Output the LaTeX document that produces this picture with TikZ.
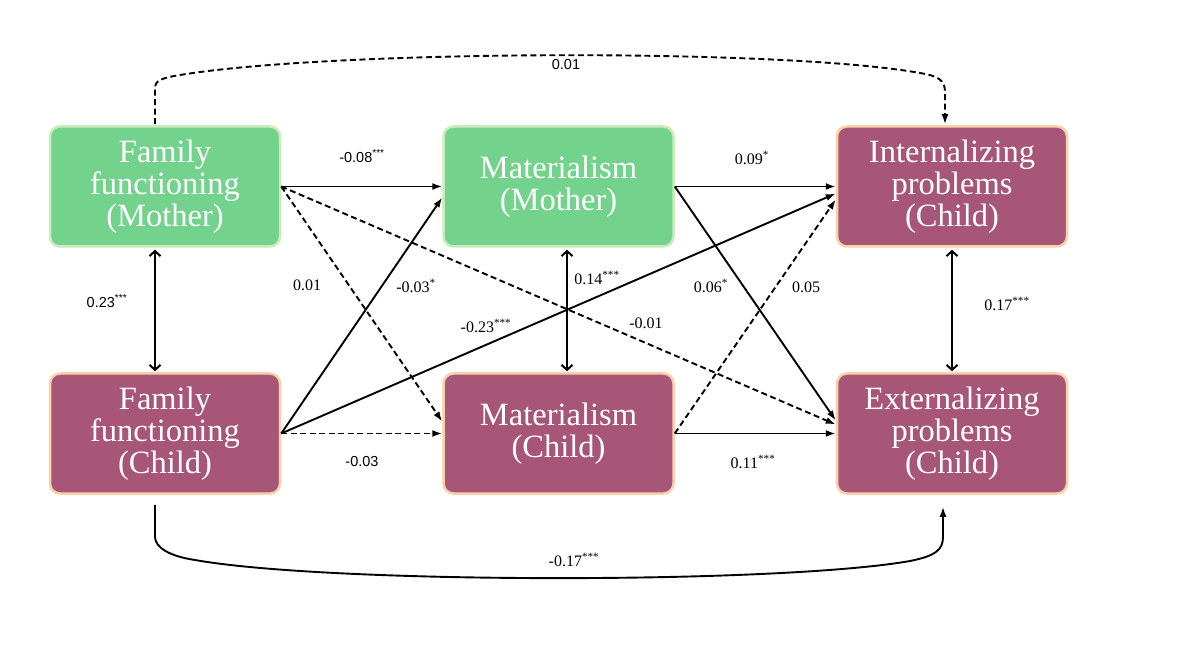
\documentclass[tikz,border=0pt]{standalone}
\usepackage{fontspec}
\setmainfont{Liberation Serif}
\newfontfamily\lsans{Liberation Sans}
\usetikzlibrary{arrows.meta,calc}
\definecolor{gfill}{RGB}{115,210,140}
\definecolor{gline}{RGB}{200,236,186}
\definecolor{pfill}{RGB}{168,86,120}
\definecolor{pline}{RGB}{248,208,170}
\tikzset{
  box/.style={rounded corners=10pt, line width=2.5pt, minimum width=230pt, minimum height=120pt,
    align=center, text=white, inner sep=0pt, font=\fontsize{32.5}{32}\selectfont},
  gbox/.style={box, fill=gfill, draw=gline},
  pbox/.style={box, fill=pfill, draw=pline},
  path/.style={line width=1.9pt, -{Latex[length=10pt,width=7pt]}},
  dpath/.style={path, dash pattern=on 6pt off 3.5pt},
  bipath/.style={line width=2pt, {Straight Barb[length=5pt,width=11pt]}-{Straight Barb[length=5pt,width=11pt]}},
  lab/.style={font=\fontsize{16}{16}\selectfont, inner sep=1pt},
  slab/.style={font=\lsans\fontsize{14.5}{15}\selectfont, inner sep=1pt}
}
\begin{document}
\begin{tikzpicture}[x=1pt,y=-1pt]
\useasboundingbox (0,0) rectangle (1200,652);
\fill[white] (0,0) rectangle (1200,652);
% boxes
\node[gbox] (FFM) at (165,186.5) {Family\\functioning\\(Mother)};
\node[gbox] (MatM) at (558.5,186.5) {Materialism\\(Mother)};
\node[pbox] (IntC) at (952,186.5) {Internalizing\\problems\\(Child)};
\node[pbox] (FFC) at (165,433.5) {Family\\functioning\\(Child)};
\node[pbox] (MatC) at (558.5,433.5) {Materialism\\(Child)};
\node[pbox] (ExtC) at (952,433.5) {Externalizing\\problems\\(Child)};
% helper coordinates
\coordinate (t1) at ($(FFM.north)+(-10,-1)$);
\coordinate (t2) at ($(IntC.north)+(-7,-1)$);
\coordinate (b1) at ($(FFC.south)+(-10,10)$);
\coordinate (b2) at ($(ExtC.south)+(-9,12)$);
% straight paths
\draw[path] (FFM.east) -- (MatM.west);
\draw[dpath] (FFM.east) -- ($(MatC.west)+(0,-12)$);
\draw[dpath] (FFM.east) -- ($(ExtC.west)+(0,-9)$);
\draw[path] (FFC.east) -- ($(MatM.west)+(0,11)$);
\draw[path] (FFC.east) -- ($(IntC.west)+(0,7)$);
\draw[dpath] (FFC.east) -- (MatC.west);
\draw[path] (MatM.east) -- (IntC.west);
\draw[path] (MatM.east) -- ($(ExtC.west)+(0,-13)$);
\draw[dpath] (MatC.east) -- ($(IntC.west)+(0,13)$);
\draw[path] (MatC.east) -- (ExtC.west);
% correlations
\draw[bipath] ($(FFM.south)+(-10,2)$) -- ($(FFC.north)+(-10,-1)$);
\draw[bipath] ($(MatM.south)+(8.5,2)$) -- ($(MatC.north)+(8.5,-1)$);
\draw[bipath] ($(IntC.south)+(0,2)$) -- ($(ExtC.north)+(0,-1)$);
% top dashed curve
\draw[dpath] (t1) -- ++(0,-36) .. controls ++(0,-8) and (162,78) .. (180,75)
  .. controls (330,50) and (780,48) .. (920,73)
  .. controls (938,76) and (945,80) .. (945,92) -- (t2);
% bottom solid curve
\draw[path] (b1) -- ++(0,32) .. controls ++(0,10) and (168,556) .. (195,560)
  .. controls (330,584) and (780,584) .. (910,561)
  .. controls (935,556) and (943,550) .. (943,537) -- (b2);
% labels
\node[slab] at (362,156) {-0.08\textsuperscript{***}};
\node[lab] at (752,158) {0.09\textsuperscript{*}};
\node[lab] at (307,285) {0.01};
\node[lab] at (416,286) {-0.03\textsuperscript{*}};
\node[lab] at (597,278) {0.14\textsuperscript{***}};
\node[lab] at (711,286) {0.06\textsuperscript{*}};
\node[lab] at (806,287) {0.05};
\node[lab] at (486,326) {-0.23\textsuperscript{***}};
\node[lab] at (646,323) {-0.01};
\node[slab] at (107,301) {0.23\textsuperscript{***}};
\node[lab] at (1007,304) {0.17\textsuperscript{***}};
\node[slab] at (362,462) {-0.03};
\node[lab] at (753,462) {0.11\textsuperscript{***}};
\node[slab] at (566,65) {0.01};
\node[lab] at (574,560) {-0.17\textsuperscript{***}};
\end{tikzpicture}
\end{document}
